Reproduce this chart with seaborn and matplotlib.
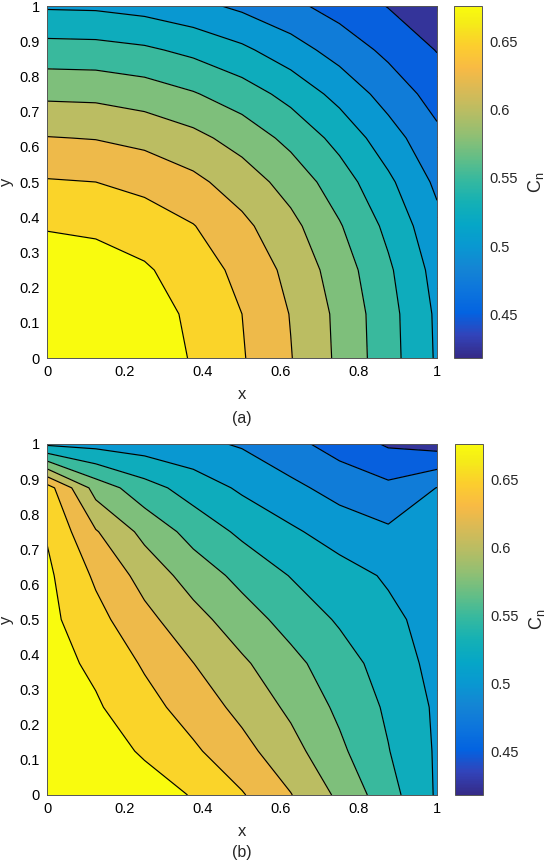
import numpy as np
import matplotlib
matplotlib.use("Agg")
import matplotlib.pyplot as plt
import seaborn as sns
from matplotlib.colors import LinearSegmentedColormap, Normalize
from matplotlib.cm import ScalarMappable
from matplotlib.ticker import FormatStrFormatter

# grid nodes (9 x 9)
x_grid = [0, 0.125, 0.25, 0.375, 0.5, 0.625, 0.75, 0.875, 1.0]
y_grid = [0, 0.125, 0.25, 0.375, 0.5, 0.625, 0.75, 0.875, 1.0]

# rows = y (bottom -> top), columns = x (left -> right)
cn_a = [
    [0.676, 0.673, 0.665, 0.648, 0.627, 0.601, 0.570, 0.535, 0.497],
    [0.673, 0.670, 0.662, 0.645, 0.625, 0.599, 0.569, 0.534, 0.496],
    [0.665, 0.662, 0.653, 0.638, 0.618, 0.593, 0.563, 0.529, 0.491],
    [0.648, 0.645, 0.638, 0.626, 0.606, 0.582, 0.552, 0.519, 0.482],
    [0.627, 0.625, 0.618, 0.606, 0.588, 0.565, 0.537, 0.505, 0.470],
    [0.601, 0.599, 0.593, 0.582, 0.565, 0.543, 0.517, 0.486, 0.456],
    [0.570, 0.569, 0.563, 0.552, 0.537, 0.517, 0.492, 0.465, 0.440],
    [0.535, 0.534, 0.529, 0.519, 0.505, 0.486, 0.465, 0.444, 0.424],
    [0.497, 0.496, 0.491, 0.482, 0.470, 0.456, 0.440, 0.424, 0.418],
]

cn_b = [
    [0.676, 0.673, 0.665, 0.648, 0.627, 0.601, 0.570, 0.535, 0.497],
    [0.672, 0.666, 0.646, 0.629, 0.608, 0.584, 0.555, 0.526, 0.497],
    [0.662, 0.653, 0.634, 0.614, 0.593, 0.570, 0.545, 0.521, 0.496],
    [0.660, 0.645, 0.622, 0.6003, 0.579, 0.557, 0.536, 0.514, 0.492],
    [0.657, 0.633, 0.607, 0.584, 0.561, 0.541, 0.522, 0.506, 0.490],
    [0.655, 0.621, 0.591, 0.564, 0.543, 0.524, 0.510, 0.497, 0.486],
    [0.648, 0.602, 0.568, 0.541, 0.520, 0.504, 0.489, 0.479, 0.481],
    [0.636, 0.565, 0.535, 0.514, 0.496, 0.481, 0.466, 0.456, 0.4755],
    [0.4955, 0.492, 0.487, 0.481, 0.4725, 0.457, 0.440, 0.422, 0.415],
]

levels = [0.425, 0.45, 0.475, 0.5, 0.525, 0.55, 0.575, 0.6, 0.625, 0.65]
cn_min, cn_max = 0.418, 0.676
cbar_ticks = [0.45, 0.5, 0.55, 0.6, 0.65]
x_ticks = [0, 0.2, 0.4, 0.6, 0.8, 1]
y_ticks = [0, 0.1, 0.2, 0.3, 0.4, 0.5, 0.6, 0.7, 0.8, 0.9, 1]
panel_tags = ["(a)", "(b)"]

# MATLAB parula, sampled
parula_idx = [0, 4, 8, 12, 16, 20, 24, 28, 32, 36, 40, 44, 48, 52, 56, 60, 63]
parula_rgb = [
    (0.2081, 0.1663, 0.5292), (0.1959, 0.2645, 0.7279), (0.0117, 0.3875, 0.8820),
    (0.0498, 0.4586, 0.8641), (0.0793, 0.5200, 0.8312), (0.0343, 0.5966, 0.8199),
    (0.0228, 0.6535, 0.7768), (0.0843, 0.6928, 0.7062), (0.2178, 0.7250, 0.6193),
    (0.3953, 0.7459, 0.5244), (0.5709, 0.7485, 0.4494), (0.7184, 0.7411, 0.3905),
    (0.8507, 0.7299, 0.3360), (0.9739, 0.7314, 0.2666), (0.9880, 0.8066, 0.1794),
    (0.9598, 0.9218, 0.0948), (0.9763, 0.9831, 0.0538),
]
parula = LinearSegmentedColormap.from_list(
    "parula", [(i / 63, c) for i, c in zip(parula_idx, parula_rgb)], N=256)

sns.set_style("white")
plt.rcParams["font.family"] = ["Liberation Sans", "DejaVu Sans"]
plt.rcParams["mathtext.fontset"] = "custom"
plt.rcParams["mathtext.rm"] = "Liberation Sans"
plt.rcParams["mathtext.it"] = "Liberation Sans"

W, H = 551, 864
fig = plt.figure(figsize=(W / 100, H / 100), dpi=100)

norm = Normalize(cn_min, cn_max)
bounds = [cn_min - 0.05] + levels + [cn_max + 0.05]
band_colors = [parula(norm(v)) for v in levels + [cn_max]]

X, Y = np.meshgrid(x_grid, y_grid)
frame_col = "#555555"

# pixel boxes: (left, top, right, bottom)
ax_boxes = [(47, 6, 437, 358), (47, 444, 437, 795)]
cb_boxes = [(454, 6, 482, 358), (455, 444, 483, 795)]
tag_y = [418, 853]

for k, (data, tag) in enumerate(zip([cn_a, cn_b], panel_tags)):
    l, t, r, b = ax_boxes[k]
    ax = fig.add_axes([l / W, 1 - b / H, (r - l) / W, (b - t) / H])
    Z = np.array(data)
    ax.contourf(X, Y, Z, levels=bounds, colors=band_colors)
    ax.contour(X, Y, Z, levels=levels, colors="k", linewidths=0.85)
    ax.set_xlim(0, 1)
    ax.set_ylim(0, 1)
    ax.set_xticks(x_ticks)
    ax.set_yticks(y_ticks)
    ax.xaxis.set_major_formatter(FormatStrFormatter("%g"))
    ax.yaxis.set_major_formatter(FormatStrFormatter("%g"))
    ax.tick_params(direction="in", length=3.5, width=0.6, top=True, right=True,
                   labelsize=10.5, colors="k", pad=5)
    for sp in ax.spines.values():
        sp.set_color(frame_col)
        sp.set_linewidth(0.7)
    ax.set_xlabel("x", fontsize=12, labelpad=6)
    ax.set_ylabel("y", fontsize=12, labelpad=4)
    fig.text((l + r) / 2 / W, 1 - tag_y[k] / H, tag, ha="center", va="center",
             fontsize=11.5)

    cl, ct, cr, cbt = cb_boxes[k]
    cax = fig.add_axes([cl / W, 1 - cbt / H, (cr - cl) / W, (cbt - ct) / H])
    sm = ScalarMappable(norm=norm, cmap=parula)
    cb = fig.colorbar(sm, cax=cax, ticks=cbar_ticks)
    cb.ax.yaxis.set_major_formatter(FormatStrFormatter("%g"))
    cb.ax.tick_params(direction="in", length=3, width=0.6, labelsize=10.5, pad=5)
    cb.outline.set_edgecolor(frame_col)
    cb.outline.set_linewidth(0.7)
    cb.set_label(r"C$_\mathregular{n}$", fontsize=13, labelpad=6)

fig.savefig("out.png", dpi=100)
